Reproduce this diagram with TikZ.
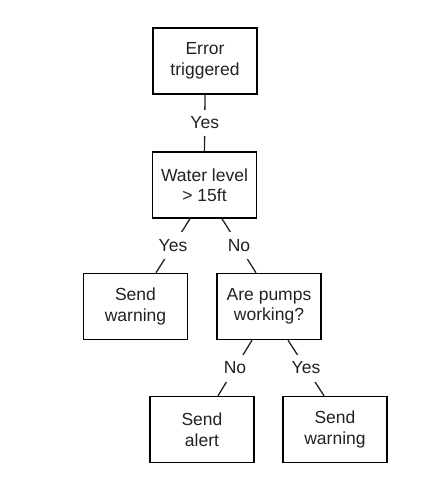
\documentclass[tikz,border=0pt]{standalone}
\usepackage{fontspec}
\setmainfont{Liberation Sans}
\usepackage{xcolor}
\definecolor{inkgray}{HTML}{222222}
\usepackage{tikz}

\tikzset{
    stepbox/.style={draw=black, line width=1.5pt, fill=white, align=center,
        minimum width=104pt, minimum height=66pt, inner sep=2pt,
        text=inkgray, font=\fontsize{17.5}{20.5}\selectfont},
    answer/.style={fill=white, minimum width=40pt, minimum height=27pt,
        inner sep=1pt, text=inkgray, font=\fontsize{17.5}{20.5}\selectfont},
    link/.style={draw=inkgray, line width=1.3pt}
}

\begin{document}
\begin{tikzpicture}[x=1pt, y=-1pt]
            \useasboundingbox (0, 0) rectangle (428, 486);

            \node[stepbox] (err) at (205, 61) {Error\\triggered};
            \node[stepbox] (level) at (204.5, 185) {Water level\\> 15ft};
            \node[stepbox] (warn1) at (135.5, 306.5) {Send\\warning};
            \node[stepbox] (pumps) at (269, 306.5) {Are pumps\\working?};
            \node[stepbox] (alert) at (202, 429.5) {Send\\alert};
            \node[stepbox] (warn2) at (335, 429.5) {Send\\warning};

            % answers sit on the lines and hide them
            \draw[link] (err.south) -- node[answer, minimum width=62pt, minimum height=26pt] {Yes} (level.north);

            \draw[link] ([xshift=-14.5pt]level.south) -- node[answer] {Yes} ([xshift=20.5pt]warn1.north);
            \draw[link] ([xshift=17.5pt]level.south) -- node[answer] {No} ([xshift=-13pt]pumps.north);

            \draw[link] ([xshift=-17pt]pumps.south) -- node[answer] {No} ([xshift=16pt]alert.north);
            \draw[link] ([xshift=19pt]pumps.south) -- node[answer] {Yes} ([xshift=-11pt]warn2.north);
        \end{tikzpicture}
\end{document}
